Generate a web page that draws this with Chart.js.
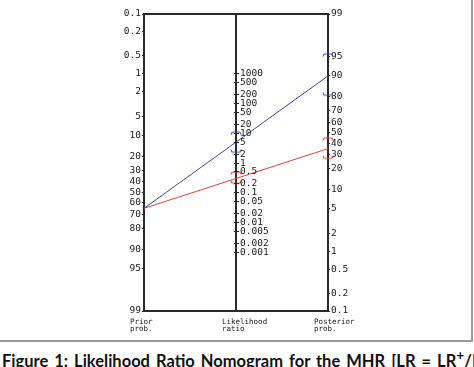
<!DOCTYPE html>
<html>
<head>
<meta charset="utf-8">
<script src="https://cdn.jsdelivr.net/npm/chart.js@4"></script>
<style>
  body { margin: 0; background: #fff; }
  #fig { width: 471px; height: 340px; border-right: 2px solid #9a9a9a; border-bottom: 2px solid #9a9a9a; }
  #caption { width: 474px; padding: 4px 0 0 2px; font: bold 16.5px Lato, sans-serif; color: #111;
             white-space: nowrap; overflow: hidden; word-spacing: 2px; }
</style>
</head>
<body>
<div id="fig"><canvas id="nomo" width="471" height="340"></canvas></div>
<div id="caption">Figure 1: Likelihood Ratio Nomogram for the MHR [LR = LR<sup>+</sup>/LR<sup>-</sup>]</div>
<script>
// ===== FAGAN NOMOGRAM =====

const PROB_TICKS = [0.1, 0.2, 0.5, 1, 2, 5, 10, 20, 30, 40, 50, 60, 70, 80, 90, 95, 99];
const LR_TICKS   = [1000, 500, 200, 100, 50, 20, 10, 5, 2, 1, 0.5, 0.2, 0.1, 0.05, 0.02, 0.01, 0.005, 0.002, 0.001];
const AXIS_NAMES = [['Prior', 'prob.'], ['Likelihood', 'ratio'], ['Posterior', 'prob.']];

const PRIOR       = 65;
const POST_POS    = 90;
const POST_NEG    = 35;
const LR_POS_CI   = [2.2, 10.5];
const LR_NEG_CI   = [0.2, 0.48];
const POST_POS_CI = [81, 95.5];
const POST_NEG_CI = [27, 45];

const BLUE = '#4446a4';
const RED  = '#e5413b';
const INK  = '#2a2a2a';
const TXT  = '#222';

// shared vertical coordinate: 0 at the top edge, SPAN at the bottom edge
const logit  = p => Math.log(p / (100 - p));
const LO     = logit(0.1);
const HI     = logit(99);
const SPAN   = HI - LO;
const zPrior = p  => logit(p) - LO;
const zPost  = q  => HI - logit(q);
const zLR    = lr => (SPAN - Math.log(lr)) / 2;

const tickFont = { family: 'DejaVu Sans Mono', size: 9.5 };

// ======== AXES ========
function fixTicks(list, toZ) {
  return s => { s.ticks = list.map(v => ({ value: toZ(v) })); };
}

function probAxis(position, toZ, width) {
  return {
    type: 'linear', position, min: 0, max: SPAN, reverse: true,
    afterBuildTicks: fixTicks(PROB_TICKS, toZ),
    afterFit: s => { s.width = width; },
    border: { color: INK, width: 2 },
    grid:   { drawOnChartArea: false, color: INK, tickLength: 2 },
    ticks:  { autoSkip: false, padding: 1, color: TXT, font: tickFont,
              callback: (v, i) => String(PROB_TICKS[i]) },
  };
}

// ======== CI BRACKETS ========
function bracket(color, opensDown) {
  const c = document.createElement('canvas');
  c.width = 12; c.height = 6;
  const g = c.getContext('2d');
  const end = opensDown ? 5.5 : 0.5;
  g.strokeStyle = color;
  g.lineWidth = 1.2;
  g.beginPath();
  g.moveTo(1, end);
  g.quadraticCurveTo(1.5, 3, 3, 3);
  g.lineTo(9, 3);
  g.quadraticCurveTo(10.5, 3, 11, end);
  g.stroke();
  return c;
}

const lineDs = (post, color) => ({
  data: [{ x: 0, y: zPrior(PRIOR) }, { x: 1, y: zPost(post) }],
  showLine: true, borderColor: color, borderWidth: 1, pointRadius: 0, clip: false,
});

const bracketDs = (lrCi, postCi, color) => {
  const low = bracket(color, false), up = bracket(color, true);
  return {
    data: [
      { x: 0.5, y: zLR(lrCi[0]) },     { x: 0.5, y: zLR(lrCi[1]) },
      { x: 1,   y: zPost(postCi[0]) }, { x: 1,   y: zPost(postCi[1]) },
    ],
    pointStyle: [low, up, low, up], pointRadius: 5, clip: false,
  };
};

// labels of the middle (LR) axis sit to the right of it
const midLabels = {
  id: 'midLabels',
  afterDraw(chart) {
    const s = chart.scales.yM, ctx = chart.ctx;
    const x0 = chart.scales.x.getPixelForValue(0.5);
    ctx.save();
    ctx.font = '9.5px "DejaVu Sans Mono"';
    ctx.fillStyle = TXT;
    ctx.strokeStyle = INK;
    ctx.lineWidth = 1;
    ctx.textAlign = 'left';
    ctx.textBaseline = 'middle';
    LR_TICKS.forEach(v => {
      const y = Math.round(s.getPixelForValue(zLR(v))) + 0.5;
      ctx.beginPath(); ctx.moveTo(x0 - 2, y); ctx.lineTo(x0 + 3, y); ctx.stroke();
      ctx.fillText(String(v), x0 + 4, y);
    });
    ctx.restore();
  },
};

// ======== CHART ========
new Chart(document.getElementById('nomo'), {
  type: 'scatter',
  data: {
    datasets: [
      lineDs(POST_POS, BLUE),
      lineDs(POST_NEG, RED),
      bracketDs(LR_POS_CI, POST_POS_CI, BLUE),
      bracketDs(LR_NEG_CI, POST_NEG_CI, RED),
    ],
  },
  options: {
    responsive: false, animation: false,
    layout: { padding: { top: 14 } },
    plugins: { legend: { display: false }, tooltip: { enabled: false } },
    scales: {
      x: {
        type: 'linear', position: 'bottom', min: 0, max: 1,
        afterBuildTicks: s => { s.ticks = [0, 0.5, 1].map(v => ({ value: v })); },
        afterFit: s => { s.height = 29; },
        border: { color: INK, width: 2 },
        grid:   { display: false, drawTicks: false },
        ticks:  { align: 'start', labelOffset: -14, padding: 8, maxRotation: 0, color: TXT,
                  font: { family: 'DejaVu Sans Mono', size: 7.5, lineHeight: 0.85 },
                  callback: (v, i) => AXIS_NAMES[i] },
      },
      xTop: {
        type: 'linear', position: 'top', min: 0, max: 1,
        afterFit: s => { s.height = 0; },
        border: { color: INK, width: 2 },
        grid:   { display: false, drawTicks: false },
        ticks:  { display: false },
      },
      y:  probAxis('left',  zPrior, 144),
      yR: probAxis('right', zPost,  143),
      yM: {
        type: 'linear', position: { x: 0.5 }, min: 0, max: SPAN, reverse: true,
        afterBuildTicks: fixTicks(LR_TICKS, zLR),
        border: { color: INK, width: 2 },
        grid:   { drawOnChartArea: false, drawTicks: false },
        ticks:  { autoSkip: false, color: 'transparent', font: tickFont },
      },
    },
  },
  plugins: [midLabels],
});
</script>
</body>
</html>
